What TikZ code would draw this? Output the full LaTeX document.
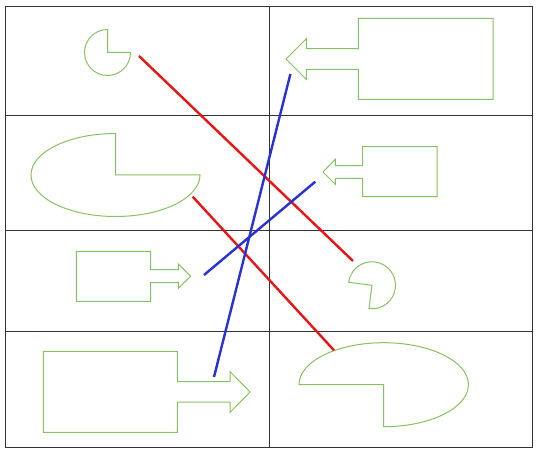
\documentclass[tikz,border=0pt]{standalone}
\begin{document}
\begin{tikzpicture}[x=1pt,y=1pt,
  grid/.style={draw=black!80,line width=1pt},
  shp/.style={draw={rgb,255:red,135;green,192;blue,100},line width=1pt,line join=miter},
  redl/.style={draw={rgb,255:red,235;green,20;blue,20},line width=2.4pt},
  bluel/.style={draw={rgb,255:red,40;green,50;blue,210},line width=2.4pt}]
\useasboundingbox (0,0) rectangle (537,452);
% frame and grid
\draw[grid] (5,5) rectangle (532,445);
\draw[grid] (269.5,5) -- (269.5,445);
\draw[grid] (5,336.7) -- (532,336.7);
\draw[grid] (5,221) -- (532,221);
\draw[grid] (5,120.7) -- (532,120.7);
% pacman top-left
\draw[shp] (107.5,399.5) -- ++(90:23) arc[start angle=90,end angle=360,radius=23] -- cycle;
% ellipse pacman row 2 left
\draw[shp] (115.5,277) -- ++(0,41.5) arc[start angle=90,end angle=360,x radius=84.5,y radius=41.5] -- cycle;
% pacman row 3 right
\draw[shp] (372,166.7) -- ++(262.6:23.5) arc[start angle=262.6,end angle=532.7,radius=23.5] -- cycle;
% ellipse pacman row 4 right
\draw[shp] (383.7,67.3) -- ++(0,-42) arc[start angle=270,end angle=540,x radius=84.7,y radius=42] -- cycle;
% left arrow top right
\draw[shp] (493,433.7) -- (493,352.7) -- (358.3,352.7) -- (358.3,382.7) -- (306.3,382.7) -- (306.3,372.7) -- (286,393) -- (306.3,413.3) -- (306.3,403.3) -- (358.3,403.3) -- (358.3,433.7) -- cycle;
% left arrow row 2 right
\draw[shp] (437,305.3) -- (437,255.3) -- (362.7,255.3) -- (362.7,273.7) -- (335.3,273.7) -- (335.3,267.7) -- (323,280) -- (335.3,292.7) -- (335.3,286.3) -- (362.7,286.3) -- (362.7,305.3) -- cycle;
% right arrow row 3 left
\draw[shp] (76.3,200.7) -- (76.3,150.7) -- (150.7,150.7) -- (150.7,169.3) -- (178.3,169.3) -- (178.3,163.7) -- (190.7,175.7) -- (178.3,188) -- (178.3,182.3) -- (150.7,182.3) -- (150.7,200.7) -- cycle;
% right arrow row 4 left
\draw[shp] (43.3,100.7) -- (43.3,19.7) -- (177.3,19.7) -- (177.3,50) -- (230,50) -- (230,39.7) -- (250,60) -- (230,80.3) -- (230,70.3) -- (177.3,70.3) -- (177.3,100.7) -- cycle;
% connector end points
\coordinate (r1a) at (139,396);
\coordinate (r1b) at (353,191);
\coordinate (r2a) at (192.7,255.3);
\coordinate (r2b) at (334,101.7);
\coordinate (b1a) at (290.4,378);
\coordinate (b1b) at (214,75);
\coordinate (b2a) at (315.3,270.3);
\coordinate (b2b) at (204,177);
\draw[redl] (r1a) -- (r1b);
\draw[redl] (r2a) -- (r2b);
\draw[bluel] (b1a) -- (b1b);
\draw[bluel] (b2a) -- (b2b);
\end{tikzpicture}
\end{document}
